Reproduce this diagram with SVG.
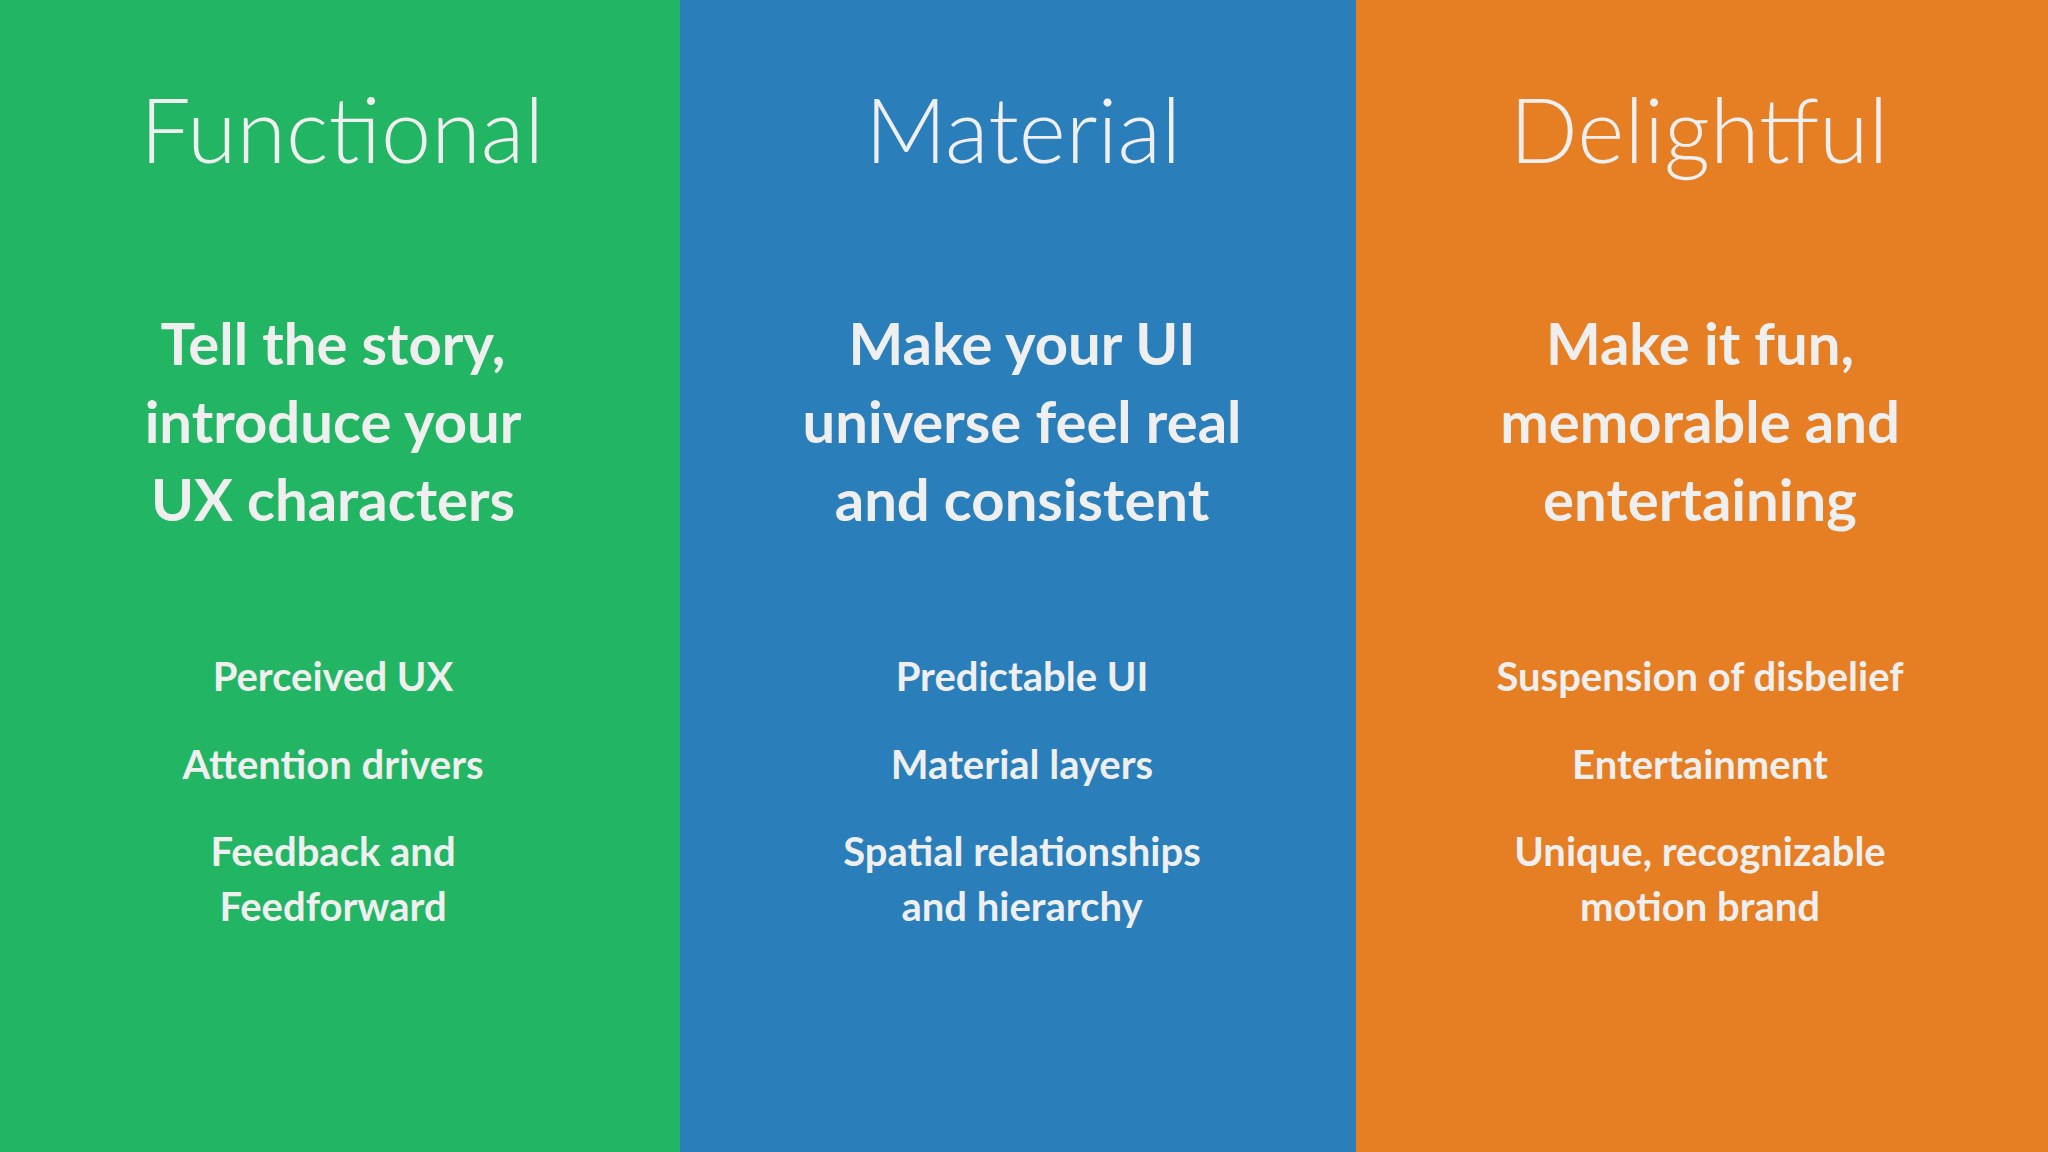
<svg xmlns="http://www.w3.org/2000/svg" width="2048" height="1152" viewBox="0 0 2048 1152">
<style>
text{font-family:"Lato","Open Sans","Liberation Sans",sans-serif;fill:#EFEFEF;text-anchor:middle}
.t{font-size:90px;font-weight:300}
.h{font-size:58px;font-weight:700}
.b{font-size:40px;font-weight:700}
</style>
<g id="functional">
<rect x="0" y="0" width="680" height="1152" fill="#21B564"/>
<text class="t" x="342" y="163">Functional</text>
<text class="h" x="333" y="365">Tell the story,</text>
<text class="h" x="333" y="443">introduce your</text>
<text class="h" x="333" y="521">UX characters</text>
<text class="b" x="333" y="691">Perceived UX</text>
<text class="b" x="333" y="779">Attention drivers</text>
<text class="b" x="333" y="866">Feedback and</text>
<text class="b" x="333" y="921">Feedforward</text>
</g>
<g id="material">
<rect x="680" y="0" width="676" height="1152" fill="#2A7FBB"/>
<text class="t" x="1023" y="163">Material</text>
<text class="h" x="1022" y="365">Make your UI</text>
<text class="h" x="1022" y="443">universe feel real</text>
<text class="h" x="1022" y="521">and consistent</text>
<text class="b" x="1022" y="691">Predictable UI</text>
<text class="b" x="1022" y="779">Material layers</text>
<text class="b" x="1022" y="866">Spatial relationships</text>
<text class="b" x="1022" y="921">and hierarchy</text>
</g>
<g id="delightful">
<rect x="1356" y="0" width="692" height="1152" fill="#E67E23"/>
<text class="t" x="1699" y="163">Delightful</text>
<text class="h" x="1700" y="365">Make it fun,</text>
<text class="h" x="1700" y="443">memorable and</text>
<text class="h" x="1700" y="521">entertaining</text>
<text class="b" x="1700" y="691">Suspension of disbelief</text>
<text class="b" x="1700" y="779">Entertainment</text>
<text class="b" x="1700" y="866">Unique, recognizable</text>
<text class="b" x="1700" y="921">motion brand</text>
</g>
<g id="connectors"/>
</svg>
